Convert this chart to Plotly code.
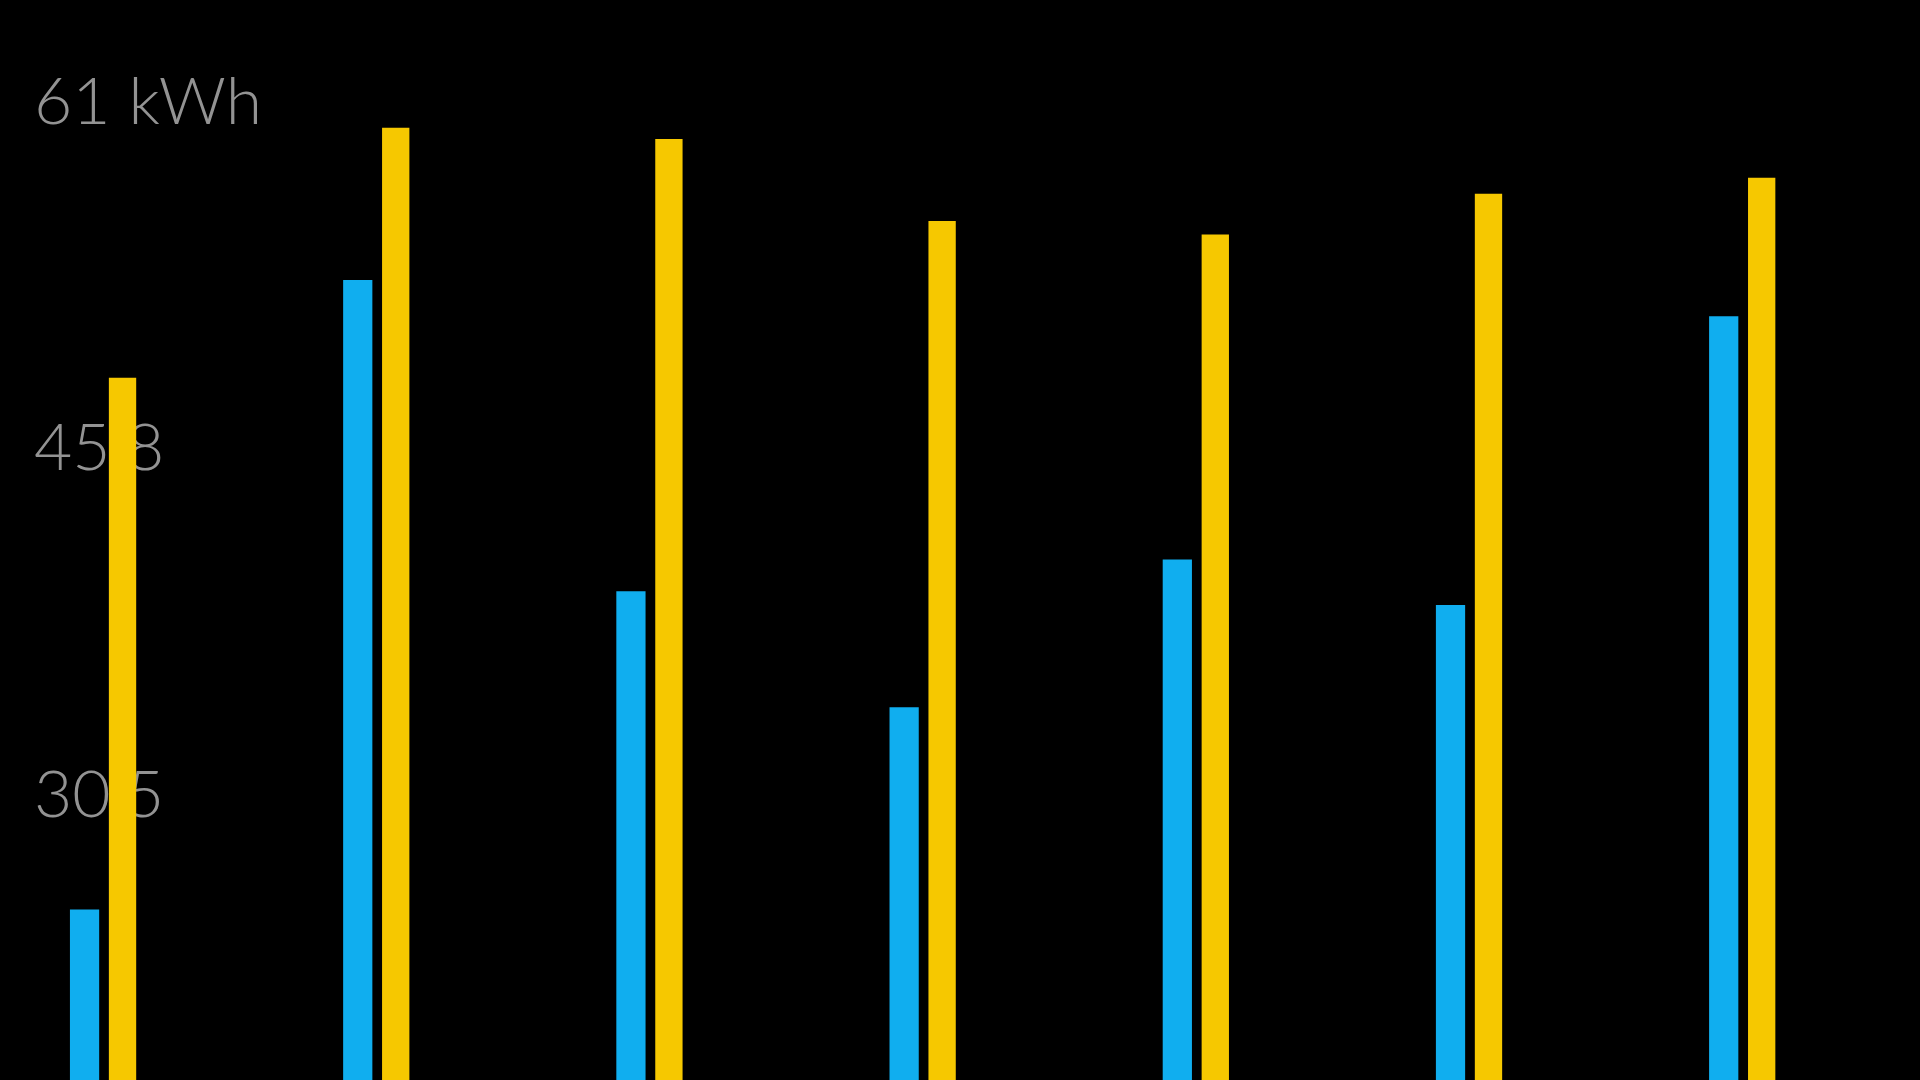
import plotly.graph_objects as go

groups = [0, 1, 2, 3, 4, 5, 6]
blue_values = [25.4, 53.1, 39.4, 34.3, 40.8, 38.8, 51.5]
yellow_values = [48.8, 59.8, 59.3, 55.7, 55.1, 56.9, 57.6]
tick_values = [30.5, 45.75, 61]
tick_labels = ["30.5", "45.8", "61 kWh"]

fig = go.Figure()
fig.add_trace(go.Bar(x=groups, y=blue_values, width=0.107, offset=-0.123,
                     marker=dict(color="#10AEEF", line=dict(width=0)), showlegend=False))
fig.add_trace(go.Bar(x=groups, y=yellow_values, width=0.1, offset=0.0195,
                     marker=dict(color="#F6C800", line=dict(width=0)), showlegend=False))

fig.update_layout(
    width=1920, height=1080,
    margin=dict(l=0, r=0, t=0, b=0),
    paper_bgcolor="#000000", plot_bgcolor="#000000",
    barmode="overlay",
    xaxis=dict(range=[-0.379, 6.649], visible=False, showgrid=False, zeroline=False),
    yaxis=dict(range=[17.9, 65.42], showgrid=False, zeroline=False,
               tickvals=tick_values, ticktext=tick_labels,
               ticklabelposition="inside", ticks="", layer="below traces",
               ticklabelstandoff=31,
               tickfont=dict(family="Lato", size=66, weight=300, color="#939393")),
)
fig.write_html(
    "out.html",
    config={"displayModeBar": False},
    post_script="document.body.style.margin='0';document.body.style.background='#000';document.body.style.overflow='hidden';",
)
